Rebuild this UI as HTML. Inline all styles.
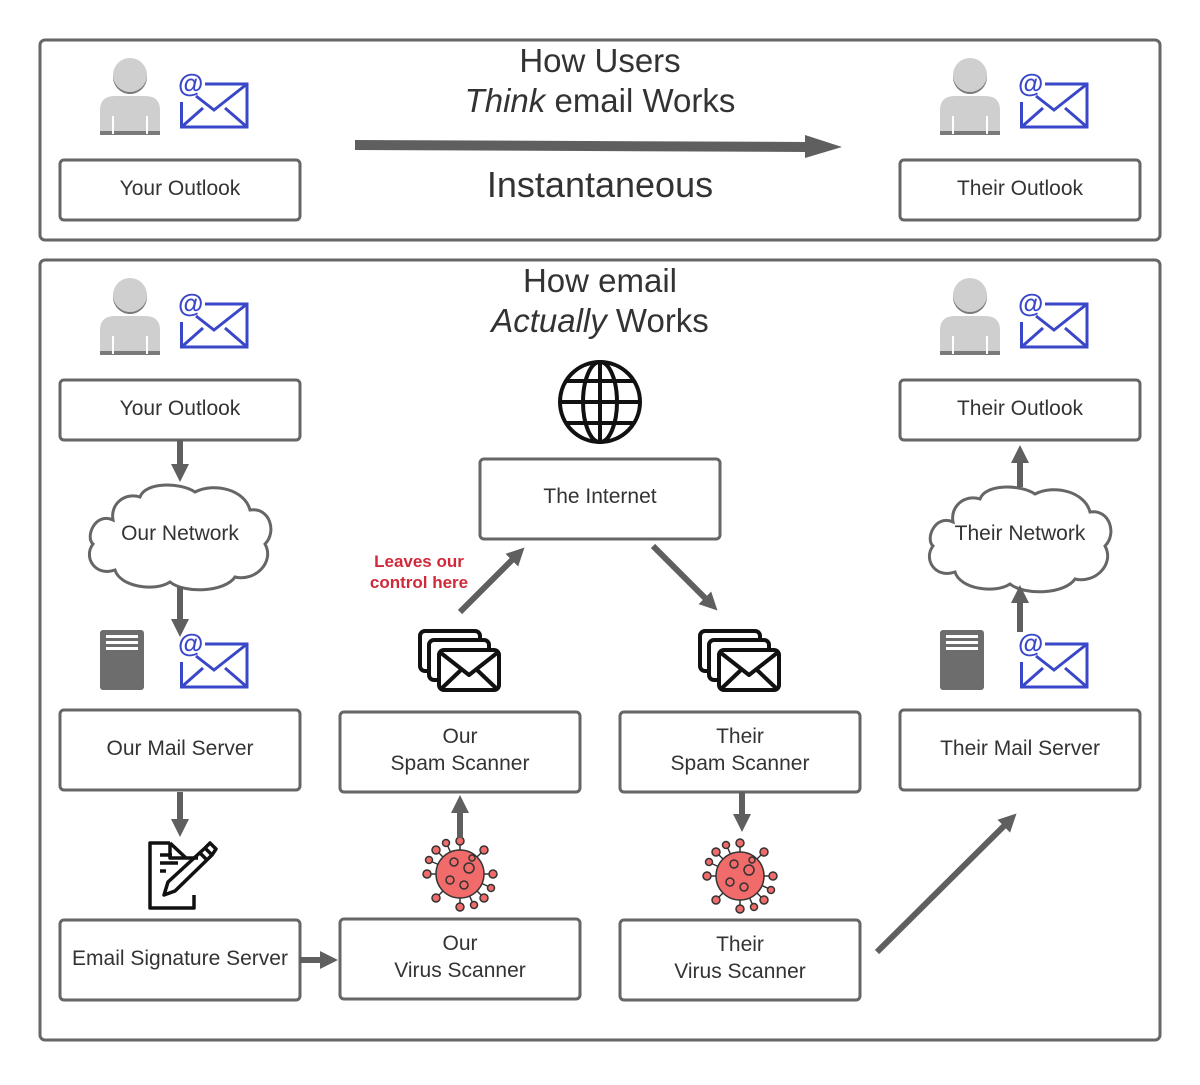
<!DOCTYPE html>
<html><head><style>
body{margin:0;background:#fff}
svg text{font-family:"Liberation Sans",Arial,sans-serif;fill:#333}
</style></head><body>
<svg width="1200" height="1080" viewBox="0 0 1200 1080" xmlns="http://www.w3.org/2000/svg">
<defs>
<g id="person">
  <circle cx="30" cy="17" r="17" fill="#7a7a7a"/>
  <circle cx="30" cy="15" r="17" fill="#cfcfcf"/>
  <path d="M0,75 V50 Q0,36 15,36 H45 Q60,36 60,50 V75 Z" fill="#cfcfcf"/>
  <rect x="0" y="71" width="60" height="4" fill="#7a7a7a"/>
  <rect x="12" y="56" width="2" height="18" fill="#fff"/>
  <rect x="46" y="56" width="2" height="18" fill="#fff"/>
</g>
<g id="env" fill="none" stroke="#3a47c8" stroke-width="3">
  <path d="M1.5,22 V47 H67 V4 H25"/>
  <path d="M16,16 L34,30 L67,4 M1.5,47 L23,28 M67,47 L45,28"/>
  <text x="-2" y="12" font-size="26" font-weight="bold" stroke="none" style="fill:#3a47c8">@</text>
</g>
<g id="server">
  <rect x="0" y="0" width="44" height="60" rx="3" fill="#6d6d6d"/>
  <rect x="6" y="5" width="32" height="3" fill="#fff"/>
  <rect x="6" y="11" width="32" height="3" fill="#fff"/>
  <rect x="6" y="17" width="32" height="3" fill="#fff"/>
</g>
<g id="envs" fill="#fff" stroke="#111" stroke-width="4" stroke-linejoin="round">
  <rect x="2" y="2" width="60" height="40" rx="5"/>
  <rect x="11" y="11" width="60" height="40" rx="5"/>
  <rect x="21" y="21" width="60" height="40" rx="5"/>
  <path d="M23,24 L51,46 L79,24 M23,60 L44,40 M79,60 L58,40" fill="none"/>
</g>
<g id="virus" stroke="#333" stroke-width="1.5">
  <g fill="#f26b6b">
  <line x1="36" y1="36" x2="36" y2="2"/><line x1="36" y1="36" x2="36" y2="70"/>
  <line x1="36" y1="36" x2="2" y2="36"/><line x1="36" y1="36" x2="70" y2="36"/>
  <line x1="36" y1="36" x2="12" y2="12"/><line x1="36" y1="36" x2="60" y2="60"/>
  <line x1="36" y1="36" x2="60" y2="12"/><line x1="36" y1="36" x2="12" y2="60"/>
  <line x1="36" y1="36" x2="22" y2="4"/><line x1="36" y1="36" x2="50" y2="68"/>
  <line x1="36" y1="36" x2="4" y2="22"/><line x1="36" y1="36" x2="68" y2="50"/>
  <circle cx="36" cy="36" r="24"/>
  <circle cx="36" cy="3" r="4"/><circle cx="36" cy="69" r="4"/>
  <circle cx="3" cy="36" r="4"/><circle cx="69" cy="36" r="4"/>
  <circle cx="12" cy="12" r="4"/><circle cx="60" cy="60" r="4"/>
  <circle cx="60" cy="12" r="4"/><circle cx="12" cy="60" r="4"/>
  <circle cx="22" cy="5" r="3.5"/><circle cx="50" cy="67" r="3.5"/>
  <circle cx="5" cy="22" r="3.5"/><circle cx="67" cy="50" r="3.5"/>
  <circle cx="30" cy="24" r="4"/><circle cx="45" cy="30" r="5"/><circle cx="26" cy="42" r="4"/><circle cx="40" cy="47" r="4"/><circle cx="48" cy="20" r="3"/>
  </g>
</g>
<path id="cloud" d="M28,38 C10,30 0,55 8,62 C-2,75 10,95 30,88 C35,105 70,110 85,100 C100,112 140,110 150,95 C170,100 190,80 180,62 C192,50 185,25 165,28 C160,8 130,0 110,10 C95,0 60,0 55,15 C40,10 25,22 28,38 Z" fill="#fff" stroke="#666" stroke-width="3"/>
<marker id="ah" markerWidth="3" markerHeight="3" refX="1" refY="1.5" orient="auto" markerUnits="strokeWidth"><path d="M0,0 L3,1.5 L0,3 Z" fill="#5f5f5f"/></marker>
</defs>

<g fill="none" stroke="#666" stroke-width="3">
<rect x="40" y="40" width="1120" height="200" rx="5"/>
<rect x="40" y="260" width="1120" height="780" rx="5"/>
<rect x="60" y="160" width="240" height="60" rx="4"/>
<rect x="900" y="160" width="240" height="60" rx="4"/>
<rect x="60" y="380" width="240" height="60" rx="4"/>
<rect x="900" y="380" width="240" height="60" rx="4"/>
<rect x="480" y="459" width="240" height="80" rx="4"/>
<rect x="60" y="710" width="240" height="80" rx="4"/>
<rect x="340" y="712" width="240" height="80" rx="4"/>
<rect x="620" y="712" width="240" height="80" rx="4"/>
<rect x="900" y="710" width="240" height="80" rx="4"/>
<rect x="60" y="920" width="240" height="80" rx="4"/>
<rect x="340" y="919" width="240" height="80" rx="4"/>
<rect x="620" y="920" width="240" height="80" rx="4"/>
</g>

<use href="#person" x="100" y="60"/><use href="#env" x="180" y="80"/>
<use href="#person" x="940" y="60"/><use href="#env" x="1020" y="80"/>
<use href="#person" x="100" y="280"/><use href="#env" x="180" y="300"/>
<use href="#person" x="940" y="280"/><use href="#env" x="1020" y="300"/>
<use href="#server" x="100" y="630"/><use href="#env" x="180" y="640"/>
<use href="#server" x="940" y="630"/><use href="#env" x="1020" y="640"/>
<use href="#envs" x="418" y="629"/><use href="#envs" x="698" y="629"/>
<use href="#virus" x="424" y="838"/><use href="#virus" x="704" y="840"/>
<use href="#cloud" x="85" y="482"/><use href="#cloud" x="925" y="484"/>

<g fill="none" stroke="#111" stroke-width="4">
<circle cx="600" cy="402" r="40"/>
<ellipse cx="600" cy="402" rx="17" ry="40"/>
<line x1="600" y1="362" x2="600" y2="442"/>
<line x1="560" y1="402" x2="640" y2="402"/>
<path d="M566,381 H634 M566,423 H634"/>
</g>
<g fill="none" stroke="#111" stroke-width="3.5" stroke-linejoin="round">
<path d="M170,843 H150 V908 H194 V895 M170,843 L186,858 H198 M170,843 V858 H186"/>
<path d="M160,855 H172 M160,863 H178 M160,871 H166"/>
<path d="M164,895 L168,882 L205,848 L212,855 L175,891 Z M200,853 L207,860 M205,848 L210,843 L216,849 L212,855"/>
</g>

<g stroke="#5f5f5f" fill="none">
<line x1="355" y1="145" x2="808" y2="147" stroke-width="10"/>
<path d="M805,135 L842,147 L805,158 Z" fill="#5f5f5f" stroke="none"/>
<g stroke-width="6" marker-end="url(#ah)">
<line x1="180" y1="440" x2="180" y2="470"/>
<line x1="180" y1="587" x2="180" y2="625"/>
<line x1="180" y1="792" x2="180" y2="825"/>
<line x1="300" y1="960" x2="326" y2="960"/>
<line x1="460" y1="838" x2="460" y2="807"/>
<line x1="460" y1="612" x2="516" y2="556"/>
<line x1="653" y1="546" x2="709" y2="602"/>
<line x1="742" y1="792" x2="742" y2="820"/>
<line x1="877" y1="952" x2="1008" y2="822"/>
<line x1="1020" y1="632" x2="1020" y2="597"/>
<line x1="1020" y1="487" x2="1020" y2="457"/>
</g>
</g>

<g font-size="21" text-anchor="middle">
<text x="180" y="195">Your Outlook</text>
<text x="1020" y="195">Their Outlook</text>
<text x="180" y="415">Your Outlook</text>
<text x="1020" y="415">Their Outlook</text>
<text x="600" y="503">The Internet</text>
<text x="180" y="540">Our Network</text>
<text x="1020" y="540">Their Network</text>
<text x="180" y="755">Our Mail Server</text>
<text x="460" y="743">Our</text><text x="460" y="770">Spam Scanner</text>
<text x="740" y="743">Their</text><text x="740" y="770">Spam Scanner</text>
<text x="1020" y="755">Their Mail Server</text>
<text x="180" y="965">Email Signature Server</text>
<text x="460" y="950">Our</text><text x="460" y="977">Virus Scanner</text>
<text x="740" y="951">Their</text><text x="740" y="978">Virus Scanner</text>
</g>
<g font-size="33" text-anchor="middle">
<text x="600" y="72">How Users</text>
<text x="600" y="112"><tspan font-style="italic">Think</tspan> email Works</text>
<text x="600" y="197" font-size="36">Instantaneous</text>
<text x="600" y="292">How email</text>
<text x="600" y="332"><tspan font-style="italic">Actually</tspan> Works</text>
</g>
<g font-size="17" font-weight="bold" text-anchor="middle">
<text x="419" y="567" style="fill:#d0293a">Leaves our</text>
<text x="419" y="588" style="fill:#d0293a">control here</text>
</g>
</svg>
</body></html>
